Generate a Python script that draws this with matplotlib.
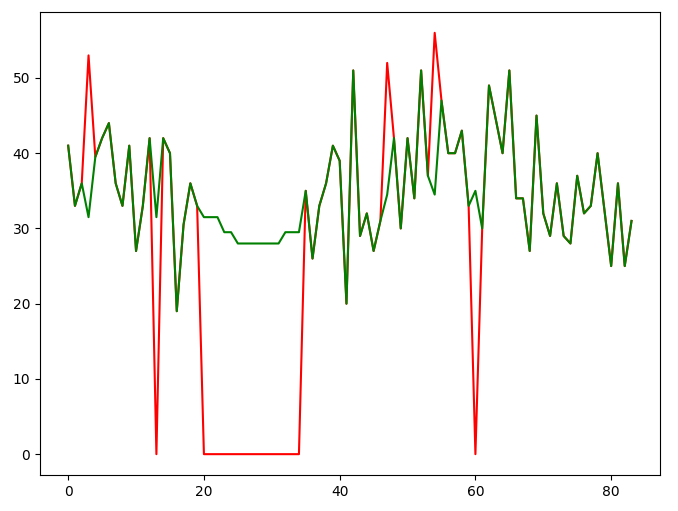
import matplotlib
matplotlib.use("Agg")
import matplotlib.pyplot as plt
import numpy as np

green_vals = [41, 33, 36, 31.5, 39.5, 42, 44, 36, 33, 41,
              27, 33, 42, 31.5, 42, 40, 19, 30.5, 36, 33,
              31.5, 31.5, 31.5, 29.5, 29.5, 28, 28, 28, 28, 28,
              28, 28, 29.5, 29.5, 29.5, 35, 26, 33, 36, 41,
              39, 20, 51, 29, 32, 27, 31, 34.5, 42, 30,
              42, 34, 51, 37, 34.5, 47, 40, 40, 43, 33,
              35, 30, 49, 44.5, 40, 51, 34, 34, 27, 45,
              32, 29, 36, 29, 28, 37, 32, 33, 40, 32.5,
              25, 36, 25, 31]
red_overrides = {3: 53, 13: 0, 47: 52, 54: 56, 60: 0}
red_zero_range = list(range(20, 35))

red_vals = list(green_vals)
for k, v in red_overrides.items():
    red_vals[k] = v
for k in red_zero_range:
    red_vals[k] = 0

x = np.arange(len(green_vals))
fig, ax = plt.subplots(figsize=(6.78, 5.11), dpi=100)
fig.subplots_adjust(left=0.059, right=0.973, top=0.977, bottom=0.07)
ax.plot(x, red_vals, color="red")
ax.plot(x, green_vals, color="green")
fig.savefig("out.png")
